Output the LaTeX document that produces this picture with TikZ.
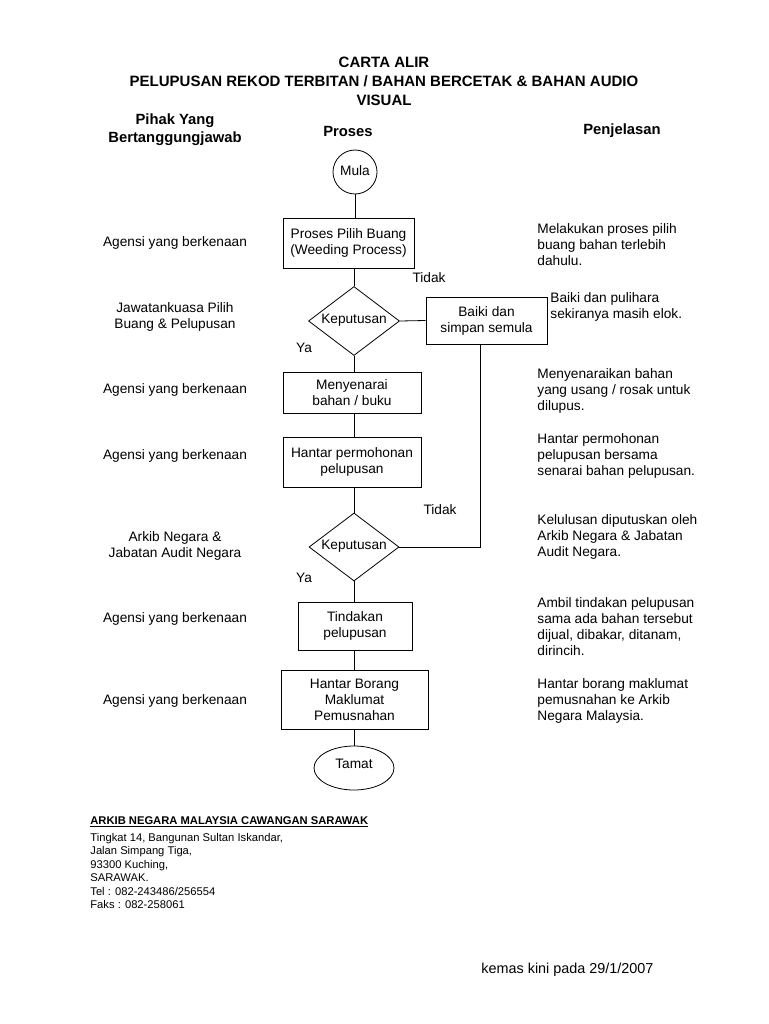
\documentclass[tikz,border=0pt]{standalone}
\usepackage{fontspec}
\setmainfont{Liberation Sans}
\usetikzlibrary{shapes.geometric}

\begin{document}
\begin{tikzpicture}[x=1pt,y=-1pt,line width=0.8pt,
    every node/.style={font=\fontsize{13.7}{16}\selectfont,inner sep=0pt},
    box/.style={draw,rectangle,align=center},
    kep/.style={draw,diamond,minimum width=91pt,minimum height=69pt},
    lbl/.style={align=center},
    info/.style={align=left,anchor=west}]
    \useasboundingbox (0,0) rectangle (768,1024);

    \node[lbl,font=\fontsize{15}{19}\selectfont\bfseries] (t) at (384,81)
        {CARTA ALIR\\PELUPUSAN REKOD TERBITAN / BAHAN BERCETAK \& BAHAN AUDIO\\VISUAL};
    \node[lbl,font=\fontsize{14.8}{18}\selectfont\bfseries] (hp) at (175,130) {Pihak Yang\\Bertanggungjawab};
    \node[lbl,font=\fontsize{14.8}{18}\selectfont\bfseries] (hs) at (348,131) {Proses};
    \node[lbl,font=\fontsize{14.8}{18}\selectfont\bfseries] (hj) at (622,131) {Penjelasan};

    \node[draw,circle,minimum size=44pt] (m) at (355,172) {\raisebox{2pt}{Mula}};
    \node[box,minimum width=131pt,minimum height=50pt] (p1) at (348.5,243) {Proses Pilih Buang\\(Weeding Process)};
    \node[kep] (k1) at (354,321) {\makebox[0pt]{\raisebox{4pt}{Keputusan}}};
    \node[box,minimum width=121pt,minimum height=47pt] (bk) at (486.5,320.5) {Baiki dan\\simpan semula};
    \node[box,minimum width=138pt,minimum height=41pt] (s1) at (352,392.5) {Menyenarai\\bahan / buku};
    \node[box,minimum width=138pt,minimum height=50pt] (h1) at (352,462) {Hantar permohonan\\pelupusan};
    \node[kep,minimum width=90pt,minimum height=68pt] (k2) at (354,547) {\makebox[0pt]{\raisebox{4pt}{Keputusan}}};
    \node[box,minimum width=114pt,minimum height=48pt] (t1) at (355,626) {Tindakan\\pelupusan};
    \node[box,minimum width=147pt,minimum height=59pt] (hb) at (354.5,699.5) {Hantar Borang\\Maklumat\\Pemusnahan};
    \node[draw,ellipse,minimum width=80pt,minimum height=44pt] (e) at (354,768) {\raisebox{8pt}{Tamat}};

    \node (td1) at (429,278) {Tidak};
    \node (ya1) at (304,348) {Ya};
    \node (td2) at (440,510) {Tidak};
    \node (ya2) at (304,578) {Ya};
    \coordinate (c) at (480,547);

    \draw (m.south) -- (m.south |- p1.north);
    \draw (k1.north |- p1.south) -- (k1.north);
    \draw (k1.east) -- (bk.west);
    \draw (k1.south) -- (k1.south |- s1.north);
    \draw (k1.south |- s1.south) -- (k1.south |- h1.north);
    \draw (k2.north |- h1.south) -- (k2.north);
    \draw (k2.east) -- (c) -- (c |- bk.south);
    \draw (k2.south) -- (k2.south |- t1.north);
    \draw (k2.south |- t1.south) -- (k2.south |- hb.north);
    \draw (e.north |- hb.south) -- (e.north);

    % pihak yang bertanggungjawab
    \node[lbl] (a1) at (175,243) {Agensi yang berkenaan};
    \node[lbl] (a2) at (175,317) {Jawatankuasa Pilih\\Buang \& Pelupusan};
    \node[lbl] (a3) at (175,390) {Agensi yang berkenaan};
    \node[lbl] (a4) at (175,456) {Agensi yang berkenaan};
    \node[lbl] (a5) at (175,546) {Arkib Negara \&\\Jabatan Audit Negara};
    \node[lbl] (a6) at (175,619) {Agensi yang berkenaan};
    \node[lbl] (a7) at (175,701) {Agensi yang berkenaan};

    % penjelasan
    \node[info] (n1) at (537,245) {Melakukan proses pilih\\buang bahan terlebih\\dahulu.};
    \node[info] (n2) at (550,307) {Baiki dan pulihara\\sekiranya masih elok.};
    \node[info] (n3) at (537,391) {Menyenaraikan bahan\\yang usang / rosak untuk\\dilupus.};
    \node[info] (n4) at (537,456) {Hantar permohonan\\pelupusan bersama\\senarai bahan pelupusan.};
    \node[info] (n5) at (537,537) {Kelulusan diputuskan oleh\\Arkib Negara \& Jabatan\\Audit Negara.};
    \node[info] (n6) at (537,627) {Ambil tindakan pelupusan\\sama ada bahan tersebut\\dijual, dibakar, ditanam,\\dirincih.};
    \node[info] (n7) at (537,701) {Hantar borang maklumat\\pemusnahan ke Arkib\\Negara Malaysia.};

    \node[info,font=\fontsize{11.2}{13.5}\selectfont\bfseries] (f1) at (90,822)
        {\underline{ARKIB NEGARA MALAYSIA CAWANGAN SARAWAK}};
    \node[info,font=\fontsize{11.2}{13.4}\selectfont] (f2) at (90,871)
        {Tingkat 14, Bangunan Sultan Iskandar,\\Jalan Simpang Tiga,\\93300 Kuching,\\SARAWAK.\\Tel : 082-243486/256554\\Faks : 082-258061};
    \node[info,font=\fontsize{14.4}{16}\selectfont] (k) at (481,970) {kemas kini pada 29/1/2007};
\end{tikzpicture}
\end{document}
